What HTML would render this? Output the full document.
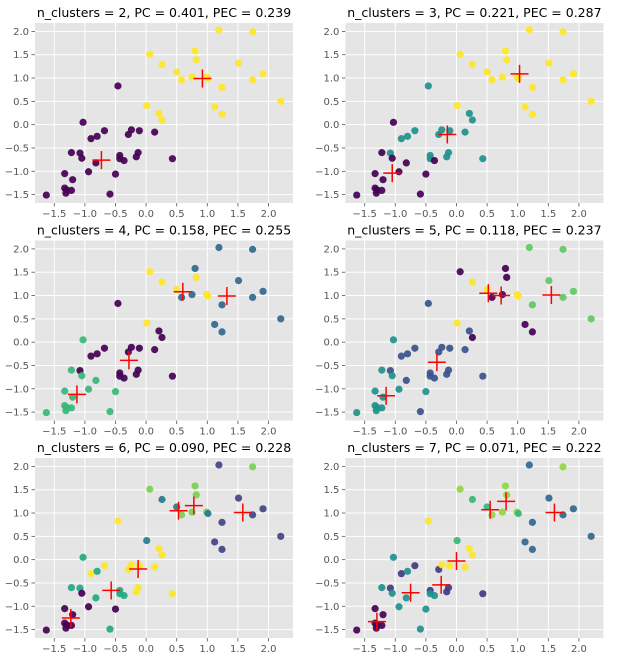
<!DOCTYPE html>
<html><head><meta charset="utf-8"><style>
body{margin:0;background:#fff;}
svg{display:block;font-family:"DejaVu Sans","Liberation Sans",sans-serif;}
</style></head><body>
<svg id="fig" width="617" height="660"></svg>
<script>
const xs=[1.19,1.74,0.06,0.80,0.82,0.26,0.50,0.58,0.75,0.99,1.01,1.51,1.74,1.91,1.24,2.20,1.12,1.24,0.01,0.21,0.26,
-0.46,-1.03,-0.90,-0.80,-0.68,-0.29,-0.24,-0.11,0.14,-1.22,-1.08,-1.05,-0.43,-0.43,-0.36,-0.16,-0.13,0.43,-0.82,-0.94,-0.50,-1.33,-1.20,-1.33,-1.30,-1.31,-1.22,-1.63,-0.59];
const ys=[2.03,1.99,1.51,1.58,1.39,1.29,1.13,0.96,1.02,1.02,0.99,1.32,0.96,1.09,0.80,0.50,0.38,0.22,0.41,0.24,0.10,
0.83,0.05,-0.30,-0.25,-0.13,-0.21,-0.11,-0.13,-0.16,-0.60,-0.61,-0.72,-0.66,-0.73,-0.77,-0.69,-0.60,-0.73,-0.82,-1.01,-1.06,-1.05,-1.18,-1.36,-1.40,-1.47,-1.41,-1.51,-1.49];
const titles=["n_clusters = 2, PC = 0.401, PEC = 0.239","n_clusters = 3, PC = 0.221, PEC = 0.287","n_clusters = 4, PC = 0.158, PEC = 0.255","n_clusters = 5, PC = 0.118, PEC = 0.237","n_clusters = 6, PC = 0.090, PEC = 0.228","n_clusters = 7, PC = 0.071, PEC = 0.222"];
const palettes=[["#440154","#fde725"],["#440154","#21918c","#fde725"],["#440154","#31688e","#35b779","#fde725"],["#440154","#3b528b","#21918c","#5ec962","#fde725"],["#440154","#414487","#2a788e","#22a884","#7ad151","#fde725"],["#440154","#443983","#31688e","#21918c","#35b779","#90d743","#fde725"]];
const labels2=[1,1,1,1,1,1,1,1,1,1,1,1,1,1,1,1,1,1,1,1,1, 0,0,0,0,0,0,0,0,0,0,0,0,0,0,0,0,0,0,0,0,0,0,0,0,0,0,0,0,0];
const labels3=[2,2,2,2,2,2,2,2,2,2,2,2,2,2,2,2,2,2,2,1,1, 1,0,1,1,1,1,1,1,1,0,1,0,1,1,0,1,1,1,0,0,0,0,0,0,0,0,0,0,0];
const labels4=[1,1,3,1,3,3,3,1,1,3,3,1,1,1,1,1,1,1,3,0,0, 0,2,0,0,0,0,0,0,0,2,0,2,0,0,0,0,0,0,2,2,2,2,2,2,2,2,2,2,2];
const labels5=[3,3,0,0,0,4,4,0,0,4,4,3,3,3,3,3,0,0,4,1,0, 1,2,1,1,1,1,1,1,1,2,1,2,1,1,1,1,1,1,1,2,2,2,2,2,2,2,2,2,1];
const labels6=[1,4,4,4,4,2,2,4,4,4,2,1,1,1,1,1,1,1,2,5,5, 5,3,5,3,5,5,5,5,5,3,3,0,3,3,3,5,5,5,3,0,0,0,0,0,0,0,0,0,3];
const labels7=[2,5,5,5,5,4,4,5,5,5,4,2,2,2,2,2,2,2,4,6,6, 6,3,1,3,1,1,6,6,6,3,1,3,1,3,3,1,1,1,3,3,3,0,0,0,0,0,0,0,3];
const allLabels=[labels2,labels3,labels4,labels5,labels6,labels7];
const centersX=[[0.92,-0.73],[-1.05,-0.15,1.03],[-1.13,-0.28,0.60,1.32],[-1.15,-0.32,0.52,0.73,1.55],[-1.23,-0.57,-0.13,0.53,0.78,1.58],[-1.30,-0.75,-0.25,0.00,0.55,0.81,1.60]];
const centersY=[[0.99,-0.76],[-1.04,-0.21,1.09],[-1.12,-0.39,1.08,0.99],[-1.15,-0.43,1.05,1.00,1.01],[-1.25,-0.66,-0.20,1.05,1.16,1.01],[-1.33,-0.71,-0.54,-0.03,1.07,1.25,1.01]];
const xTicks=[-1.5,-1.0,-0.5,0.0,0.5,1.0,1.5,2.0];
const yTicks=[-1.5,-1.0,-0.5,0.0,0.5,1.0,1.5,2.0];
const xTickLabels=["\u22121.5","\u22121.0","\u22120.5","0.0","0.5","1.0","1.5","2.0"];
const yTickLabels=["\u22121.5","\u22121.0","\u22120.5","0.0","0.5","1.0","1.5","2.0"];

const NS="http://www.w3.org/2000/svg";
const svg=document.getElementById('fig');
function mk(tag,attrs,parent){const e=document.createElementNS(NS,tag);for(const k in attrs)e.setAttribute(k,attrs[k]);parent.appendChild(e);return e;}
const colL=[35,345.4], rowT=[23,240.5,458], W=258, H=180;
const xmin=-1.815,xmax=2.40,ymin=-1.68,ymax=2.18;
for(let p=0;p<6;p++){
  const L=colL[p%2], T=rowT[Math.floor(p/2)];
  const sx=v=>L+(v-xmin)/(xmax-xmin)*W;
  const sy=v=>T+(ymax-v)/(ymax-ymin)*H;
  const g=mk('g',{},svg);
  
  
  const bg=mk('rect',{x:L,y:T,width:W,height:H,fill:'#e5e5e5'},g);
  
  
  xTicks.forEach((t,i)=>{
    const x=sx(t);
    mk('line',{x1:x,x2:x,y1:T,y2:T+H,stroke:'#fff','stroke-width':1},g);
    mk('line',{x1:x,x2:x,y1:T+H,y2:T+H+3.5,stroke:'#555','stroke-width':0.8},g);
    const tx=mk('text',{x:x,y:T+H+14,'font-size':10,fill:'#555','text-anchor':'middle'},g);
    tx.textContent=xTickLabels[i];
    
    
  });
  yTicks.forEach((t,i)=>{
    const y=sy(t);
    mk('line',{x1:L,x2:L+W,y1:y,y2:y,stroke:'#fff','stroke-width':1},g);
    mk('line',{x1:L-3.5,x2:L,y1:y,y2:y,stroke:'#555','stroke-width':0.8},g);
    const ty=mk('text',{x:L-6,y:y+3.5,'font-size':10,fill:'#555','text-anchor':'end'},g);
    ty.textContent=yTickLabels[i];
    
    
  });
  const pal=palettes[p], lab=allLabels[p];
  xs.forEach((v,i)=>{
    const c=mk('circle',{cx:sx(v),cy:sy(ys[i]),r:3.6,fill:pal[lab[i]],'fill-opacity':0.92},g);
    
    
  });
  centersX[p].forEach((v,i)=>{
    const cx=sx(v), cy=sy(centersY[p][i]);
    const cg=mk('g',{stroke:'#ff0000','stroke-width':1.5},g);
    
    
    mk('line',{x1:cx-9,x2:cx+9,y1:cy,y2:cy},cg);
    mk('line',{x1:cx,x2:cx,y1:cy-9,y2:cy+9},cg);
  });
  const tt=mk('text',{x:L+W/2,y:T-6,'font-size':12.5,fill:'#000','text-anchor':'middle'},g);
  tt.textContent=titles[p];
  
  
}
</script>
</body></html>
